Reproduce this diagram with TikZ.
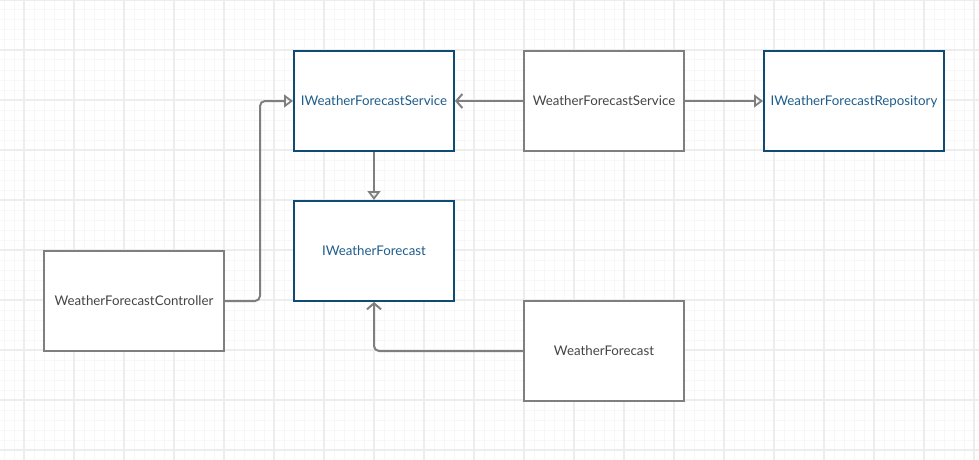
\documentclass[tikz,border=0pt]{standalone}
\usepackage{fontspec}
\setmainfont{Lato}
\usetikzlibrary{arrows.meta}
\definecolor{ifaceblue}{HTML}{0F4C75}
\definecolor{ifacetext}{HTML}{1E5D8C}
\definecolor{classgrey}{HTML}{7F7F7F}
\definecolor{classtext}{HTML}{444444}
\definecolor{gridminor}{HTML}{F7F7F7}
\definecolor{gridmajor}{HTML}{EDEDED}
\tikzset{
  boxtext/.style={font=\fontsize{13.3pt}{15pt}\selectfont, inner sep=0pt, minimum height=100pt,
    text depth=-2pt},
  iface/.style={boxtext, draw=ifaceblue, line width=2pt, fill=white, text=ifacetext},
  klass/.style={boxtext, draw=classgrey, line width=2pt, fill=white, text=classtext},
  realize/.style={draw=classgrey, line width=2pt, rounded corners=5pt,
    -{Triangle[open,length=9pt,width=13pt,line width=1.8pt]}},
  uses/.style={draw=classgrey, line width=2pt, rounded corners=5pt,
    -{Straight Barb[length=6pt,width=14pt,line width=2pt]}}
}
\begin{document}
\begin{tikzpicture}[x=1pt,y=-1pt]
  \useasboundingbox (0,0) rectangle (979,460);
  \fill[white] (0,0) rectangle (979,460);

  % Background grid
  \foreach \x in {4,14,...,974}
    \draw[gridminor, line width=1pt] (\x,0) -- (\x,460);
  \foreach \y in {10,20,...,450}
    \draw[gridminor, line width=1pt] (0,\y) -- (979,\y);
  \foreach \x in {24,74,...,974}
    \draw[gridmajor, line width=2pt] (\x,0) -- (\x,460);
  \foreach \y in {0,50,...,450}
    \draw[gridmajor, line width=2pt] (0,\y) -- (979,\y);

  % Interfaces
  \node[iface, minimum width=160pt] (iservice) at (374,101) {IWeatherForecastService};
  \node[iface, minimum width=160pt] (iforecast) at (374,251) {IWeatherForecast};
  \node[iface, minimum width=180pt] (irepo) at (854,101) {IWeatherForecastRepository};

  % Classes
  \node[klass, minimum width=160pt] (service) at (604,101) {WeatherForecastService};
  \node[klass, minimum width=180pt] (controller) at (134,301) {WeatherForecastController};
  \node[klass, minimum width=160pt] (forecast) at (604,351) {WeatherForecast};

  % Connectors
  \draw[realize] (controller.east) -- ++(35,0) |- (iservice.west);
  \draw[realize] (iservice.south) -- (iforecast.north);
  \draw[uses] (service.west) -- (iservice.east);
  \draw[realize] (service.east) -- (irepo.west);
  \draw[uses] (forecast.west) -| (iforecast.south);
\end{tikzpicture}
\end{document}
